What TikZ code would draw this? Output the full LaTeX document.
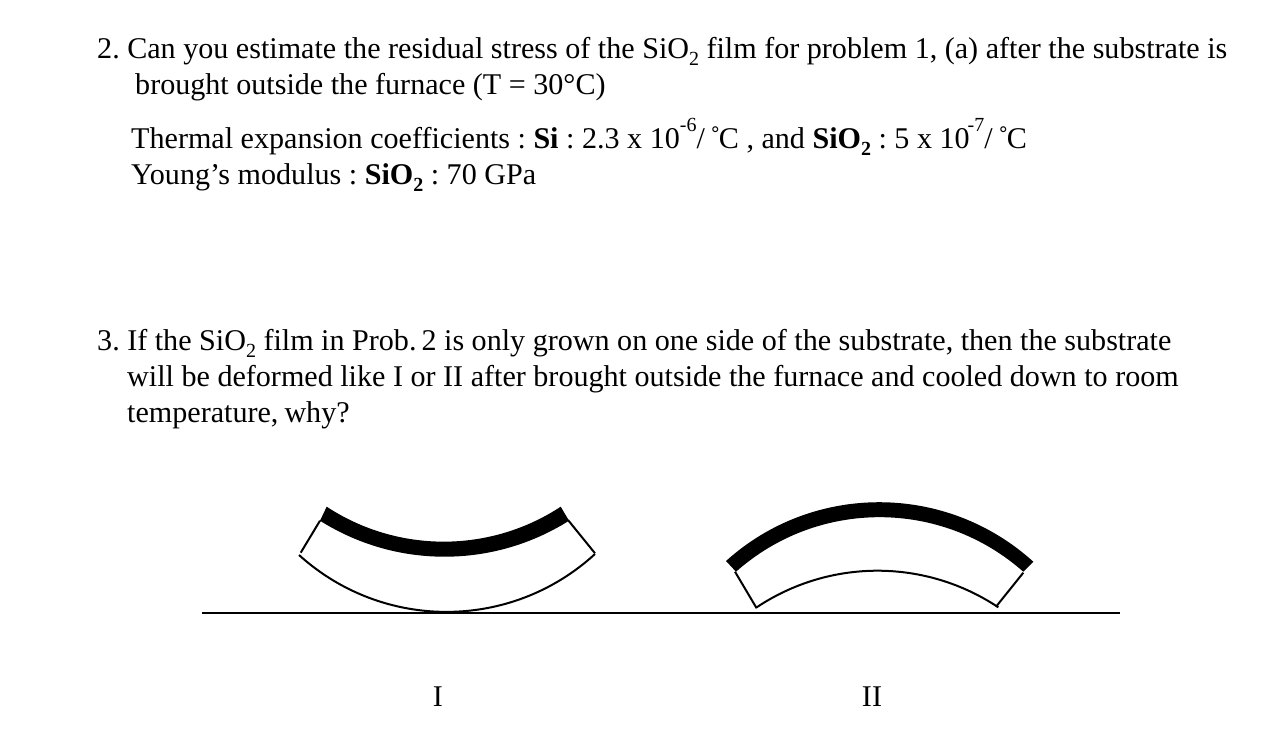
\documentclass[tikz,border=0pt]{standalone}
\usepackage{fontspec}
\setmainfont{Liberation Serif}
\frenchspacing
\newcommand{\subtwo}{\raisebox{-0.24em}{\fontsize{20}{20}\selectfont 2}}
\newcommand{\bsubtwo}{\raisebox{-0.24em}{\fontsize{20}{20}\selectfont\bfseries 2}}
\newcommand{\supr}[1]{\raisebox{0.55em}{\fontsize{20}{20}\selectfont #1}}
\newcommand{\degC}{\kern-2pt{}˚\kern-1.5pt{}C}
\tikzset{
  txt/.style={anchor=base west,inner sep=0pt,font=\fontsize{30.1}{34}\selectfont},
  lbl/.style={anchor=base,inner sep=0pt,font=\fontsize{30.1}{34}\selectfont},
  thinl/.style={draw=black,line width=2pt},
  film/.style={fill=black,draw=none}
}
\begin{document}
\begin{tikzpicture}[x=1pt,y=-1pt]
\useasboundingbox (0,0) rectangle (1288,745);
\node[txt] (l1) at (97,58) {2. Can you estimate the residual stress of the SiO\subtwo{} film for problem 1, (a) after the substrate is};
\node[txt] (l2) at (135,94) {brought outside the furnace (T = 30°C)};
\node[txt] (l3) at (131,148) {Thermal expansion coefficients : \textbf{Si} : 2.3 x 10\supr{-6}/ \degC{} , and \textbf{SiO\bsubtwo} : 5 x 10\kern-2pt\supr{-7}/ \degC};
\node[txt] (l4) at (131,184) {Young’s modulus : \textbf{SiO\bsubtwo} : 70 GPa};
\node[txt] (l5) at (97,350) {3. If the SiO\subtwo{} film in Prob.\kern-2.5pt{} 2 is only grown on one side of the substrate, then the substrate};
\node[txt] (l6) at (127,386) {will be deformed like I or II after brought outside the furnace and cooled down to room};
\node[txt] (l7) at (127,422) {temperature,\kern-1.5pt{} why?};
\node[lbl] (one) at (438,706) {I};
\node[lbl] (two) at (872,706) {II};
% shape I
\fill[film] (326.7,506.7) .. controls (397.7,553.3) and (489.7,553.3) .. (560.7,506.7)
  -- (569,520.7) .. controls (493,568.7) and (396,568.7) .. (320,520.7) -- cycle;
\draw[thinl] (320,520.7) -- (300.7,552.7);
\draw[thinl] (568,520) -- (595,553.3);
\draw[thinl] (299,555) .. controls (383,631) and (511,631) .. (595,554);
% shape II
\fill[film] (726,561) .. controls (813,482.5) and (946,482.5) .. (1033.3,561.7)
  -- (1023.3,571.7) .. controls (941,499) and (818,499) .. (736,571.7) -- cycle;
\draw[thinl] (735,571.7) -- (756.7,608.3);
\draw[thinl] (1023.3,572.7) -- (996,606.7);
\draw[thinl] (756.7,607.3) .. controls (830,558.5) and (925,558.5) .. (998.3,607.3);
% baseline
\draw[thinl] (202,612.5) -- (1120,612.5);
\end{tikzpicture}
\end{document}
